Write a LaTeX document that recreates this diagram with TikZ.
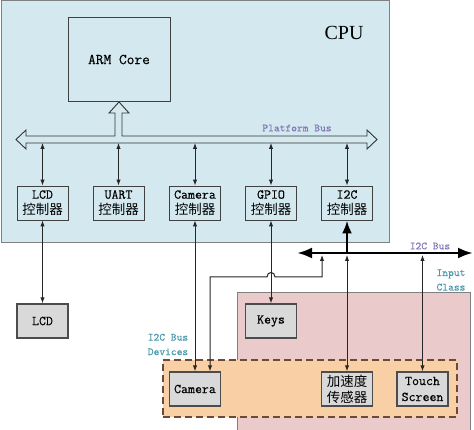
\documentclass[tikz,border=0pt]{standalone}
\usepackage{fontspec}
\setmainfont{Liberation Serif}
\newfontfamily\cjk{Noto Sans CJK SC}
\newfontfamily\boxfont{Latin Modern Mono}[FakeBold=0.4]
\newfontfamily\labfont{Latin Modern Mono}[FakeBold=0.15]
\usetikzlibrary{arrows.meta}
\definecolor{cpubg}{HTML}{D4E8EF}
\definecolor{pinkbg}{HTML}{EBCACB}
\definecolor{orangebg}{HTML}{F9CFA6}
\definecolor{devfill}{HTML}{D9D9D9}
\definecolor{busviolet}{HTML}{7F77B5}
\definecolor{labteal}{HTML}{4A98AC}
\definecolor{dashbrown}{HTML}{6B4A3A}
\begin{document}
\begin{tikzpicture}[x=1pt,y=-1pt,
  ctrl/.style={draw=black!75, fill=cpubg, line width=0.9pt, minimum width=51pt, minimum height=34pt, inner sep=0pt, align=center, font=\fontsize{13.5}{16}\selectfont\boxfont},
  dev/.style={ctrl, fill=devfill, draw=black!70, line width=1.4pt},
  region/.style={inner sep=0pt, line width=1pt},
  link/.style={draw=black!85, line width=1pt, {Latex[length=6pt,width=4.5pt]}-{Latex[length=6pt,width=4.5pt]}},
  lab/.style={font=\fontsize{11}{14.5}\selectfont\labfont, inner sep=0pt, align=center}
]
\useasboundingbox (0,0) rectangle (474,430);
% regions
\node[region, draw=black!50, fill=cpubg, minimum width=388pt, minimum height=242pt] (cpu) at (195,122) {};
\node[region, draw=black!50, fill=pinkbg, minimum width=233pt, minimum height=140pt] (inputcls) at (353.5,363) {};
\node[region, draw=dashbrown, dash pattern=on 7pt off 4pt, line width=1.3pt, fill=orangebg, minimum width=294pt, minimum height=57pt] (i2cdev) at (310,388.5) {};
% labels
\node[font=\fontsize{20}{24}\selectfont] (cpulab) at (344,33) {CPU};
\node[lab, text=busviolet] (pblab) at (297,128) {Platform Bus};
\node[lab, text=busviolet] (i2cblab) at (430,246) {I2C Bus};
\node[lab, text=labteal] (inlab) at (451,280) {Input\\Class};
\node[lab, text=labteal] (devlab) at (168,344.5) {I2C Bus\\Devices};
% ARM core
\node[draw=black!75, line width=0.9pt, minimum width=102pt, minimum height=84pt, inner sep=0pt, font=\fontsize{15}{18}\selectfont\boxfont] (arm) at (119,59.5) {ARM Core};
% platform bus (hollow double arrow with hollow up arrow)
\draw[draw=black!80, line width=0.9pt, fill=cpubg]
  (16,139.5) -- (26,130) -- (26,136) -- (115,136) -- (115,113) -- (109,113) -- (arm.south) -- (129,113) -- (122,113) -- (122,136) -- (367,136) -- (367,130) -- (377,139.5) -- (367,149) -- (367,143) -- (26,143) -- (26,149) -- cycle;
\coordinate (pbb) at (0,143);
% controllers
\node[ctrl] (lcdc) at (42.5,203) {LCD\\{\cjk 控制器}};
\node[ctrl] (uartc) at (118.5,203) {UART\\{\cjk 控制器}};
\node[ctrl] (camc) at (195,203) {Camera\\{\cjk 控制器}};
\node[ctrl] (gpioc) at (271,203) {GPIO\\{\cjk 控制器}};
\node[ctrl] (i2cc) at (347,203) {I2C\\{\cjk 控制器}};
% devices
\node[dev] (lcd) at (42.5,321) {LCD};
\node[dev] (keys) at (271,321) {Keys};
\node[dev] (cam) at (195,389) {Camera};
\node[dev] (accel) at (347,389) {{\cjk 加速度}\\{\cjk 传感器}};
\node[dev] (touch) at (422.5,389) {Touch\\Screen};
% bus to controllers
\foreach \n in {lcdc,uartc,camc,gpioc,i2cc}
  \draw[link] (\n.north |- pbb) -- (\n.north);
\draw[link] (lcdc.south) -- (lcd.north);
\draw[link] (camc.south) -- (cam.north);
\draw[link] (gpioc.south) -- (keys.north);
% I2C bus
\coordinate (i2cL) at (297,253);
\coordinate (i2cR) at (473,253);
\coordinate (i2cbb) at (0,255);
\draw[line width=2.8pt, {Latex[length=15pt,width=11pt]}-{Latex[length=15pt,width=11pt]}] (i2cL) -- (i2cR);
\draw[line width=2.8pt, -{Latex[length=13pt,width=10pt]}] (i2cc.south |- i2cL) -- (i2cc.south);
\coordinate (tap) at (322,255);
\coordinate (k1) at (322,277);
\coordinate (k2) at (210,277);
\draw[link] (tap) -- (k1) -- (275,277) .. controls (275,271) and (267,271) .. (267,277) -- (k2) -- (k2 |- cam.north);
\draw[link] (accel.north |- i2cbb) -- (accel.north);
\draw[link] (touch.north |- i2cbb) -- (touch.north);
\end{tikzpicture}
\end{document}
